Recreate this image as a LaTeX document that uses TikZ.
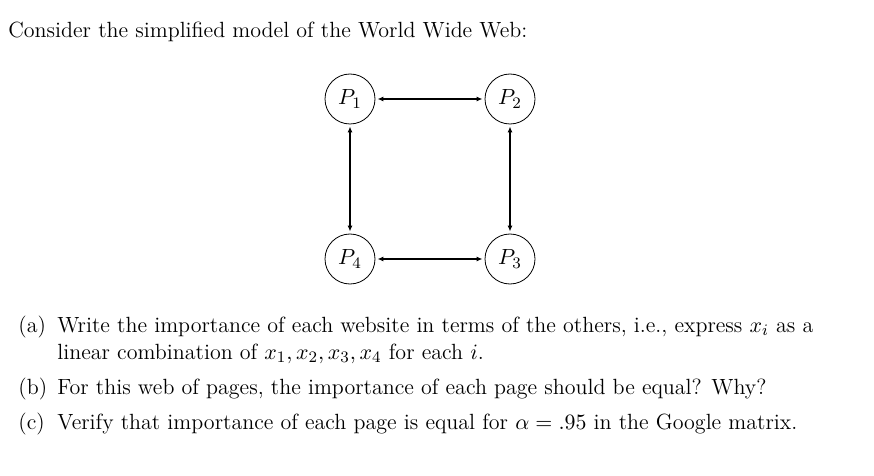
\documentclass[tikz,border=0pt]{standalone}
\usetikzlibrary{arrows.meta}
\begin{document}
\begin{tikzpicture}[x=0.5pt,y=-0.5pt,font=\fontsize{11}{13}\selectfont,
  pg/.style={circle,draw,minimum size=25pt,inner sep=0pt},
  lk/.style={{Latex[length=3pt,width=2.5pt]}-{Latex[length=3pt,width=2.5pt]},line width=0.7pt,shorten <=1pt,shorten >=1pt},
  tx/.style={anchor=base west,inner sep=0pt}]
\useasboundingbox (0,0) rectangle (874,476);
\node[tx] (t0) at (8,38) {Consider the simplified model of the World Wide Web:};
\node[pg] (p1) at (350,99) {$P_1$};
\node[pg] (p2) at (510,99) {$P_2$};
\node[pg] (p3) at (510,259) {$P_3$};
\node[pg] (p4) at (350,259) {$P_4$};
\draw[lk] (p1) -- (p2);
\draw[lk] (p2) -- (p3);
\draw[lk] (p4) -- (p3);
\draw[lk] (p1) -- (p4);
\node[tx] (la) at (18,332) {(a)};
\node[tx] (ta) at (57,332) {Write the importance of each website in terms of the others, i.e., express $x_i$ as a};
\node[tx] (ta2) at (57,359) {linear combination of $x_1,x_2,x_3,x_4$ for each $i$.};
\node[tx] (lb) at (18,394) {(b)};
\node[tx] (tb) at (57,394) {For this web of pages, the importance of each page should be equal? Why?};
\node[tx] (lc) at (18,429) {(c)};
\node[tx] (tc) at (57,429) {Verify that importance of each page is equal for $\alpha=.95$ in the Google matrix.};
\end{tikzpicture}
\end{document}
